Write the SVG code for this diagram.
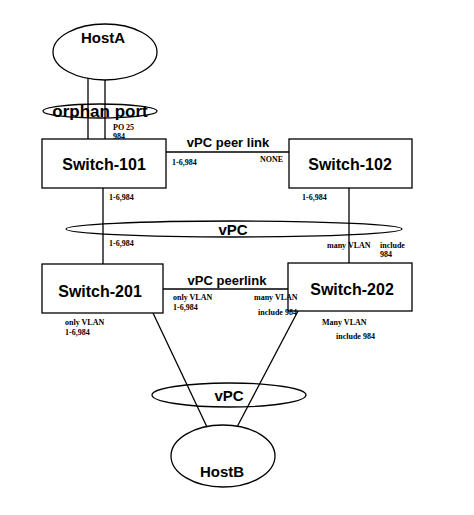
<svg xmlns="http://www.w3.org/2000/svg" width="474" height="515" viewBox="0 0 474 515">
<style>
.sh{fill:#fff;stroke:#000;stroke-width:1.3}
.el{fill:none;stroke:#000;stroke-width:1.3}
.ln{stroke:#000;stroke-width:1.3;fill:none}
.t{font-family:"Liberation Sans",Arial,sans-serif;font-weight:bold;fill:#000;text-anchor:middle}
.s{font-family:"Liberation Serif","Times New Roman",serif;font-weight:bold;font-size:8px;fill:#000}
</style>
<rect width="474" height="515" fill="#fff"/>
<g id="connectors">
<line class="ln" x1="88" y1="78" x2="88" y2="139"/>
<line class="ln" x1="105" y1="80" x2="105" y2="139"/>
<line class="ln" x1="166" y1="152" x2="289" y2="152"/>
<line class="ln" x1="103" y1="188" x2="103" y2="264"/>
<line class="ln" x1="349" y1="188" x2="349" y2="263"/>
<line class="ln" x1="163" y1="289" x2="288" y2="289"/>
<line class="ln" x1="153" y1="313" x2="207" y2="427"/>
<line class="ln" x1="298" y1="311" x2="237" y2="427"/>
</g>
<g id="HostA">
<ellipse class="el" cx="105" cy="52" rx="52" ry="28"/>
<text class="t" x="103" y="43" font-size="15">HostA</text>
</g>
<g id="orphan-port">
<ellipse class="el" cx="100" cy="111" rx="57" ry="7"/>
<text class="t" x="100" y="117" font-size="17">orphan port</text>
</g>
<g id="Switch-101">
<rect class="sh" x="42" y="139" width="124" height="49"/>
<text class="t" x="104" y="170" font-size="16">Switch-101</text>
</g>
<g id="Switch-102">
<rect class="sh" x="289" y="139" width="123" height="49"/>
<text class="t" x="350" y="170" font-size="16">Switch-102</text>
</g>
<g id="vPC-mid">
<ellipse class="el" cx="234" cy="229" rx="168" ry="8"/>
<text class="t" x="233" y="235" font-size="15">vPC</text>
</g>
<g id="Switch-201">
<rect class="sh" x="42" y="264" width="121" height="49"/>
<text class="t" x="100" y="297" font-size="16">Switch-201</text>
</g>
<g id="Switch-202">
<rect class="sh" x="288" y="263" width="124" height="48"/>
<text class="t" x="352" y="295" font-size="16">Switch-202</text>
</g>
<g id="vPC-bottom">
<ellipse class="el" cx="229" cy="395" rx="77" ry="12"/>
<text class="t" x="229" y="401" font-size="15">vPC</text>
</g>
<g id="HostB">
<ellipse class="el" cx="223" cy="456" rx="52" ry="31"/>
<text class="t" x="222" y="477" font-size="15">HostB</text>
</g>
<g id="labels">
<text class="t" x="228" y="147" font-size="13">vPC peer link</text>
<text class="t" x="227" y="285" font-size="13">vPC peerlink</text>
<text class="s" x="113" y="130">PO 25</text>
<text class="s" x="113" y="139">984</text>
<text class="s" x="172" y="165">1-6,984</text>
<text class="s" x="260" y="162">NONE</text>
<text class="s" x="109" y="200">1-6,984</text>
<text class="s" x="302" y="200">1-6,984</text>
<text class="s" x="109" y="246">1-6,984</text>
<text class="s" x="327" y="248">many VLAN</text>
<text class="s" x="380" y="248">include</text>
<text class="s" x="380" y="257">984</text>
<text class="s" x="173" y="300">only VLAN</text>
<text class="s" x="173" y="310">1-6,984</text>
<text class="s" x="254" y="300">many VLAN</text>
<text class="s" x="258" y="315">include 984</text>
<text class="s" x="322" y="325">Many VLAN</text>
<text class="s" x="336" y="339">include 984</text>
<text class="s" x="65" y="325">only VLAN</text>
<text class="s" x="65" y="335">1-6,984</text>
</g>
</svg>
